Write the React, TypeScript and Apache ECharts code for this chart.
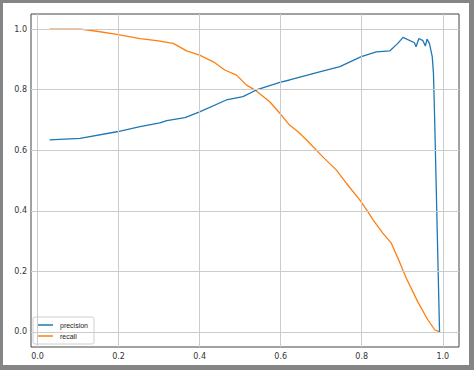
import React, { useEffect, useRef } from "react";
import * as echarts from "echarts";

const precisionX = [0.03, 0.105, 0.196, 0.253, 0.302, 0.319, 0.364, 0.40, 0.466, 0.507, 0.54, 0.598, 0.622, 0.643, 0.696, 0.746, 0.799, 0.836, 0.869, 0.889, 0.902, 0.930, 0.934, 0.941, 0.951, 0.957, 0.961, 0.967, 0.974, 0.977, 0.980, 0.992];
const precisionY = [0.634, 0.639, 0.661, 0.678, 0.69, 0.698, 0.708, 0.727, 0.766, 0.777, 0.799, 0.824, 0.832, 0.84, 0.859, 0.876, 0.909, 0.925, 0.928, 0.953, 0.973, 0.955, 0.942, 0.969, 0.962, 0.944, 0.967, 0.953, 0.909, 0.854, 0.70, 0];

const recallX = [0.03, 0.105, 0.146, 0.196, 0.253, 0.294, 0.335, 0.368, 0.40, 0.434, 0.462, 0.491, 0.516, 0.54, 0.573, 0.598, 0.622, 0.643, 0.664, 0.704, 0.737, 0.762, 0.795, 0.815, 0.828, 0.852, 0.873, 0.893, 0.91, 0.938, 0.963, 0.98, 0.992];
const recallY = [1.0, 1.0, 0.993, 0.983, 0.969, 0.962, 0.953, 0.928, 0.914, 0.892, 0.865, 0.848, 0.815, 0.796, 0.76, 0.722, 0.683, 0.661, 0.634, 0.578, 0.535, 0.491, 0.436, 0.397, 0.37, 0.326, 0.293, 0.232, 0.177, 0.10, 0.04, 0.007, 0];

const xTicks = [0, 0.2, 0.4, 0.6, 0.8, 1.0];
const yTicks = [0, 0.2, 0.4, 0.6, 0.8, 1.0];
const seriesNames = ["precision", "recall"];

export default function App() {
  const ref = useRef<HTMLDivElement>(null);
  useEffect(() => {
    document.body.style.margin = "0";
    const chart = echarts.init(ref.current!, null, { renderer: "svg" });
    const font = "DejaVu Sans";
    const W = 474, H = 370;
    const frame = "#858585";
    chart.setOption({
      animation: false,
      backgroundColor: "#ffffff",
      grid: {
        left: 31, top: 14, right: 15, bottom: 23,
        show: true, borderColor: "#444", borderWidth: 1, backgroundColor: "transparent",
      },
      xAxis: {
        type: "value", min: -0.016, max: 1.04,
        axisLine: { show: false },
        splitLine: { show: false },
        axisTick: { show: true, length: 3, customValues: xTicks, lineStyle: { color: "#444" } },
        axisLabel: {
          customValues: xTicks, margin: 5, fontFamily: font, fontSize: 8, color: "#333",
          formatter: (v: number) => v.toFixed(1),
        },
      },
      yAxis: {
        type: "value", min: -0.05, max: 1.05,
        axisLine: { show: false },
        splitLine: { show: false },
        axisTick: { show: true, length: 3, customValues: yTicks, lineStyle: { color: "#444" } },
        axisLabel: {
          customValues: yTicks, margin: 4, fontFamily: font, fontSize: 8, color: "#333",
          formatter: (v: number) => v.toFixed(1),
        },
      },
      legend: {
        data: seriesNames,
        orient: "vertical",
        left: 33, top: 317,
        padding: [4, 6, 4, 4],
        itemGap: 3,
        itemWidth: 16, itemHeight: 1.5,
        icon: "rect",
        backgroundColor: "rgba(255,255,255,0.85)",
        borderColor: "#d0d0d0", borderWidth: 1, borderRadius: 2,
        textStyle: { fontFamily: "Liberation Sans", fontSize: 7, lineHeight: 8, color: "#222", padding: [0, 0, 0, 2] },
      },
      series: [
        {
          type: "line", data: [], z: 1, silent: true,
          markLine: {
            silent: true, symbol: ["none", "none"], animation: false,
            label: { show: false },
            lineStyle: { color: "#cccccc", width: 1, type: "solid" },
            data: [
              ...xTicks.map((v) => ({ xAxis: v })),
              ...yTicks.map((v) => ({ yAxis: v })),
            ],
          },
        },
        {
          name: seriesNames[0], type: "line", z: 3, showSymbol: false, symbol: "none",
          data: precisionX.map((x, i) => [x, precisionY[i]]),
          lineStyle: { color: "#1f77b4", width: 1.3 }, itemStyle: { color: "#1f77b4" },
        },
        {
          name: seriesNames[1], type: "line", z: 2, showSymbol: false, symbol: "none",
          data: recallX.map((x, i) => [x, recallY[i]]),
          lineStyle: { color: "#ff7f0e", width: 1.3 }, itemStyle: { color: "#ff7f0e" },
        },
      ],
      graphic: [
        { type: "rect", shape: { x: 0, y: 0, width: W, height: 3 }, style: { fill: frame }, silent: true },
        { type: "rect", shape: { x: 0, y: 0, width: 3, height: H }, style: { fill: frame }, silent: true },
        { type: "rect", shape: { x: W - 5, y: 0, width: 5, height: H }, style: { fill: frame }, silent: true },
        { type: "rect", shape: { x: 0, y: H - 5, width: W, height: 5 }, style: { fill: frame }, silent: true },
      ],
    });
    return () => chart.dispose();
  }, []);
  return <div ref={ref} style={{ width: 474, height: 370 }} />;
}
